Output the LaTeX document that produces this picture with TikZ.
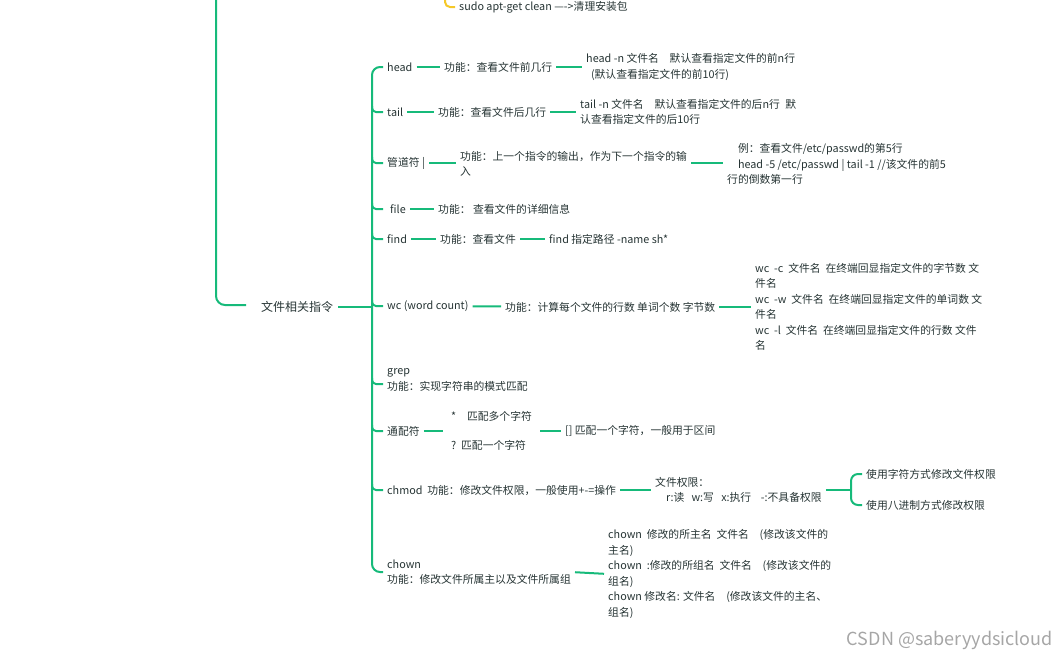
\documentclass[tikz,border=0pt]{standalone}
\usepackage{fontspec}
\setmainfont{Noto Sans CJK SC}
\definecolor{gr}{RGB}{22,186,122}
\definecolor{tx}{RGB}{38,52,52}
\definecolor{yl}{RGB}{245,200,40}
\begin{document}
\begin{tikzpicture}[x=1pt,y=-1pt,
  t/.style={anchor=west,inner sep=0pt,text=tx,font=\fontsize{10.8}{15.5}\selectfont,align=left},
  gl/.style={draw=gr,line width=2pt},
  cn/.style={gl,shorten <=4pt,shorten >=4pt}]
\useasboundingbox (0,0) rectangle (1056,657);
% top
\draw[yl,line width=2pt,rounded corners=5] (445,0)--(445,7)--(455,7);
\node[t,text=tx] (sudo) at (459,7) {sudo apt-get clean ---->清理安装包};
% main trunk
\draw[gl,rounded corners=9] (216,0)--(216,305)--(246,305);
\node[t,font=\fontsize{12}{14}\selectfont] (root) at (261,307) {文件相关指令};
\coordinate (br) at (372,307);
\draw[gl] (root.east)++(5pt,0)--(br);
\draw[gl,rounded corners=8] (383,67)--(372,67)--(372,572)--(383,572);
\foreach \y in {112,163,209,239,306,384,431,490} \draw[gl,rounded corners=4] (372,\y-6)--(372,\y)--(383,\y);
% head
\node[t] (h) at (387,67) {head};
\node[t] (h1) at (444,67) {功能：查看文件前几行};
\node[t] (h2) at (586,67) {head -n 文件名\quad 默认查看指定文件的前n行\\\ \ (默认查看指定文件的前10行)};
\draw[cn] (h)--(h1); \draw[cn] (h1)--(h2.west);
% tail
\node[t] (ta) at (387,112) {tail};
\node[t] (ta1) at (438,112) {功能：查看文件后几行};
\node[t] (ta2) at (580,112) {tail -n 文件名\quad 默认查看指定文件的后n行\enspace 默\\认查看指定文件的后10行};
\draw[cn] (ta)--(ta1); \draw[cn] (ta1)--(ta2.west);
% pipe
\node[t] (p) at (387,163) {管道符 |};
\node[t] (p1) at (460,164) {功能：上一个指令的输出，作为下一个指令的输\\入};
\node[t] (p2) at (727,164) {\quad 例：查看文件/etc/passwd的第5行\\\quad head -5 /etc/passwd | tail -1 //该文件的前5\\行的倒数第一行};
\draw[cn] (p)--(p1.west|-p); \draw[cn] (p1.east|-p)--(p2.west|-p);
% file
\node[t] (f) at (390,209) {file};
\node[t] (f1) at (438,209) {功能：\ 查看文件的详细信息};
\draw[cn] (f)--(f1);
% find
\node[t] (fi) at (387,239) {find};
\node[t] (fi1) at (440,239) {功能：查看文件};
\node[t] (fi2) at (549,239) {find 指定路径 -name sh*};
\draw[cn] (fi)--(fi1); \draw[cn] (fi1)--(fi2);
% wc
\node[t] (w) at (387,306) {wc (word count)};
\node[t] (w1) at (505,307) {功能：计算每个文件的行数 单词个数 字节数};
\node[t] (w2) at (755,307) {wc\ \ -c\ \ 文件名\ \ 在终端回显指定文件的字节数 文\\件名\\wc\ \ -w\ \ 文件名\ \ 在终端回显指定文件的单词数 文\\件名\\wc\ \ -l\ \ 文件名\ \ 在终端回显指定文件的行数 文件\\名};
\draw[cn] (w)--(w1); \draw[cn] (w1)--(w2.west);
% grep
\node[t] (g) at (387,380) {grep\\功能：实现字符串的模式匹配};
% wildcard
\node[t] (c) at (387,431) {通配符};
\node[t] (c1) at (451,416) {*\quad 匹配多个字符};
\node[t] (c2) at (451,445) {?\ \ 匹配一个字符};
\coordinate (cm) at (447,431);
\coordinate (cm2) at (536,431);
\node[t] (c3) at (565,431) {[] 匹配一个字符，一般用于区间};
\draw[cn] (c)--(cm); \draw[cn] (cm2)--(c3);
% chmod
\node[t] (m) at (387,490) {chmod\ \ 功能：修改文件权限，一般使用+-=操作};
\node[t] (m1) at (655,490) {文件权限：\\\quad r:读\ \ \ w:写\ \ \ x:执行\ \ \ \ -:不具备权限};
\node[t] (m2) at (866,474) {使用字符方式修改文件权限};
\node[t] (m3) at (866,505) {使用八进制方式修改权限};
\draw[cn] (m)--(m1.west);
\coordinate (mb) at (851,490);
\draw[gl] (m1.east)++(4pt,0)--(mb);
\draw[gl,rounded corners=7] (862,474)--(851,474)--(851,505)--(862,505);
% chown
\node[t] (o) at (387,572) {chown\\功能：修改文件所属主以及文件所属组};
\node[t] (o1) at (608,574) {chown\ \ 修改的所主名\ \ 文件名\quad (修改该文件的\\主名)\\chown\ \ :修改的所组名\ \ 文件名\quad (修改该文件的\\组名)\\chown 修改名: 文件名\quad (修改该文件的主名、\\组名)};
\draw[cn] (o.east)--(o1.west);
% watermark
\node[anchor=east,inner sep=0pt,text=black!35,font=\fontsize{18}{20}\selectfont] (wm) at (1053,640) {CSDN @saberyydsicloud};
\end{tikzpicture}
\end{document}
